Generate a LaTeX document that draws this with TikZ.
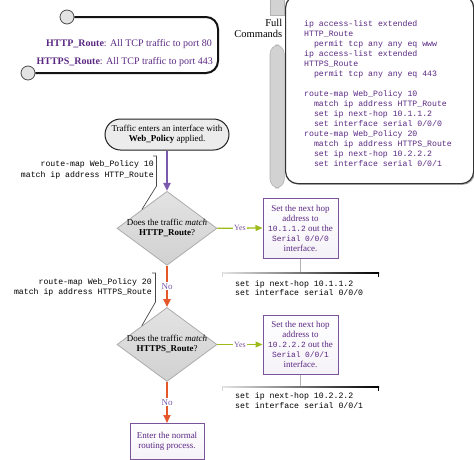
\documentclass[tikz,border=0pt]{standalone}
\usepackage{fontspec}
\setmainfont{Liberation Serif}
\setmonofont{Liberation Mono}
\usetikzlibrary{arrows.meta,shapes.geometric,shadows}
\definecolor{ptext}{HTML}{5A2882}
\definecolor{parrow}{HTML}{7B5AAE}
\definecolor{rarrow}{HTML}{E4572A}
\definecolor{garrow}{HTML}{9DBB1A}
\newcommand\monot[1]{{\fontsize{7.9}{10}\selectfont\ttfamily #1}}
\begin{document}
\begin{tikzpicture}[x=1pt,y=-1pt,
  flow/.style={font=\fontsize{9}{10}\selectfont},
  mono/.style={font=\fontsize{8.2}{9.97}\selectfont\ttfamily, inner sep=0},
  dot/.style={circle, minimum size=14, inner sep=0, draw=gray!60!black, line width=0.8, fill=gray!22},
  frame/.style={draw=gray!15!black, line width=2, rounded corners=12},
  startnode/.style={flow, draw=gray!25!black, line width=1, fill=gray!15, rounded corners=15.5, minimum width=124, minimum height=31, align=center, inner sep=1},
  dia/.style={diamond, draw=gray!65, line width=0.8, top color=gray!22, bottom color=gray!36, minimum width=100, minimum height=74, inner sep=0},
  pbox/.style={flow, draw=ptext!80, line width=1, top color=white, bottom color=ptext!6, text=ptext, align=center, inner sep=1, minimum width=75, drop shadow={shadow xshift=0.8pt, shadow yshift=-0.8pt, fill=ptext!45}},
  arrp/.style={draw=parrow, line width=2, -{Triangle[length=8pt,width=7pt]}},
  arrr/.style={draw=rarrow, line width=2, -{Triangle[length=8pt,width=7pt]}},
  arrg/.style={draw=garrow, line width=1.3, -{Triangle[length=7pt,width=6pt]}},
  yeslab/.style={font=\fontsize{8}{9}\selectfont, text=ptext!80, fill=white, inner sep=1},
  nolab/.style={font=\fontsize{9}{10}\selectfont, text=parrow, fill=white, inner sep=1},
  annot/.style={draw=gray!55!black, line width=0.7},
  hookline/.style={draw=gray!60, line width=1},
  stripst/.style={fill=gray!35, draw=gray!60, line width=0.6}
]
\useasboundingbox (0,0) rectangle (474,459);

% ---- top-left legend ----
\node[dot] (c1) at (67,17) {};
\node[dot] (c2) at (28,73) {};
\draw[frame] (c1.east) -- (218,17) -- (218,73) -- (c2.east);
\node[anchor=base east, font=\fontsize{10}{12}\selectfont, text=ptext, inner sep=0] (t1) at (212,46.5) {\textbf{HTTP\_Route}: All TCP traffic to port 80};
\node[anchor=base east, font=\fontsize{10}{12}\selectfont, text=ptext, inner sep=0] (t2) at (213,64.5) {\textbf{HTTPS\_Route}: All TCP traffic to port 443};

% ---- command box ----
\node[draw=gray!40!black, line width=1.2, fill=white, rounded corners=12, minimum width=188, minimum height=188, anchor=north west, drop shadow={shadow xshift=1.2pt, shadow yshift=-1.2pt, fill=gray!70!black}] (cmdbox) at (285,-5) {};
\path[stripst] (270,-5) -- (284.3,-5) -- (284.3,15) -- (270,15) -- cycle;
\path[stripst, rounded corners=9] (270,45) -- (284.3,45) -- (284.3,188) -- (270,188) -- cycle;
\node[anchor=north east, align=right, inner sep=1.5, font=\fontsize{10.5}{11}\selectfont] (fc) at (284,18) {Full\\Commands};
\node[mono, anchor=north west, align=left, text=ptext] (cmds) at (304,20.5) {%
ip access-list extended\\
HTTP\_Route\\
\hphantom{mm}permit tcp any any eq www\\
ip access-list extended\\
HTTPS\_Route\\
\hphantom{mm}permit tcp any any eq 443\\[9.97pt]
route-map Web\_Policy 10\\
\hphantom{mm}match ip address HTTP\_Route\\
\hphantom{mm}set ip next-hop 10.1.1.2\\
\hphantom{mm}set interface serial 0/0/0\\
route-map Web\_Policy 20\\
\hphantom{mm}match ip address HTTPS\_Route\\
\hphantom{mm}set ip next-hop 10.2.2.2\\
\hphantom{mm}set interface serial 0/0/1};

% ---- flowchart ----
\node[startnode] (start) at (167,134.5) {Traffic enters an interface with\\\textbf{Web\_Policy} applied.};

\node[dia] (d1) at (167,228.3) {};
\node[flow, align=center, inner sep=0] (d1t) at (167,227.5) {Does the traffic \textit{match}\\\textbf{HTTP\_Route}?};
\node[dia] (d2) at (167,344.5) {};
\node[flow, align=center, inner sep=0] (d2t) at (167,344) {Does the traffic \textit{match}\\\textbf{HTTPS\_Route}?};

\node[pbox, minimum height=60] (box1) at (300.5,228) {Set the next hop\\address to\\\monot{10.1.1.2} out the\\\monot{Serial 0/0/0}\\interface.};
\node[pbox, minimum height=59] (box2) at (300.5,344.5) {Set the next hop\\address to\\\monot{10.2.2.2} out the\\\monot{Serial 0/0/1}\\interface.};
\node[pbox, minimum width=74, minimum height=36, anchor=north] (endbox) at (167,423) {Enter the normal\\routing process.};

\draw[arrp] (start.south) -- (d1.north);
\draw[arrr] (d1.south) -- node[nolab] {No} (d2.north);
\draw[arrr] (d2.south) -- node[nolab] {No} (endbox.north);
\draw[arrg] (d1.east) -- node[yeslab] {Yes} (box1.west);
\draw[arrg] (d2.east) -- node[yeslab] {Yes} (box2.west);

% ---- annotations ----
\node[mono, anchor=base east] (a1a) at (154,166.5) {route-map Web\_Policy 10};
\node[mono, anchor=base east] (a1b) at (154,177) {match ip address HTTP\_Route};
\coordinate (b1a) at (153,156);
\coordinate (b1b) at (156.5,156);
\coordinate (b1c) at (156.5,186);
\draw[annot] (b1a) -- (b1b) -- (b1c) -- (d1.north west);

\node[mono, anchor=base east] (a2a) at (152,284) {route-map Web\_Policy 20};
\node[mono, anchor=base east] (a2b) at (152,294) {match ip address HTTPS\_Route};
\coordinate (b2a) at (152,273);
\coordinate (b2b) at (155.5,273);
\coordinate (b2c) at (155.5,302);
\draw[annot] (b2a) -- (b2b) -- (b2c) -- (d2.north west);

% ---- set-command brackets ----
\coordinate (k1) at (300.5,273);
\draw[hookline] (box1.south) -- (k1);
\shade[left color=gray!20, right color=black] (222,272.2) rectangle (379,273.8);
\draw[gray!30, line width=1] (222.5,272.2) -- (222.5,277);
\draw[black, line width=1.4] (378.3,272.2) -- (378.3,277);
\node[mono, anchor=base west] (s1a) at (235,286) {set ip next-hop 10.1.1.2};
\node[mono, anchor=base west] (s1b) at (235,295.5) {set interface serial 0/0/0};

\coordinate (k2) at (300.5,387);
\draw[hookline] (box2.south) -- (k2);
\shade[left color=gray!20, right color=black] (222,386.2) rectangle (379,387.8);
\draw[gray!30, line width=1] (222.5,386.2) -- (222.5,391);
\draw[black, line width=1.4] (378.3,386.2) -- (378.3,391);
\node[mono, anchor=base west] (s2a) at (235,398.5) {set ip next-hop 10.2.2.2};
\node[mono, anchor=base west] (s2b) at (235,408) {set interface serial 0/0/1};
\end{tikzpicture}
\end{document}
